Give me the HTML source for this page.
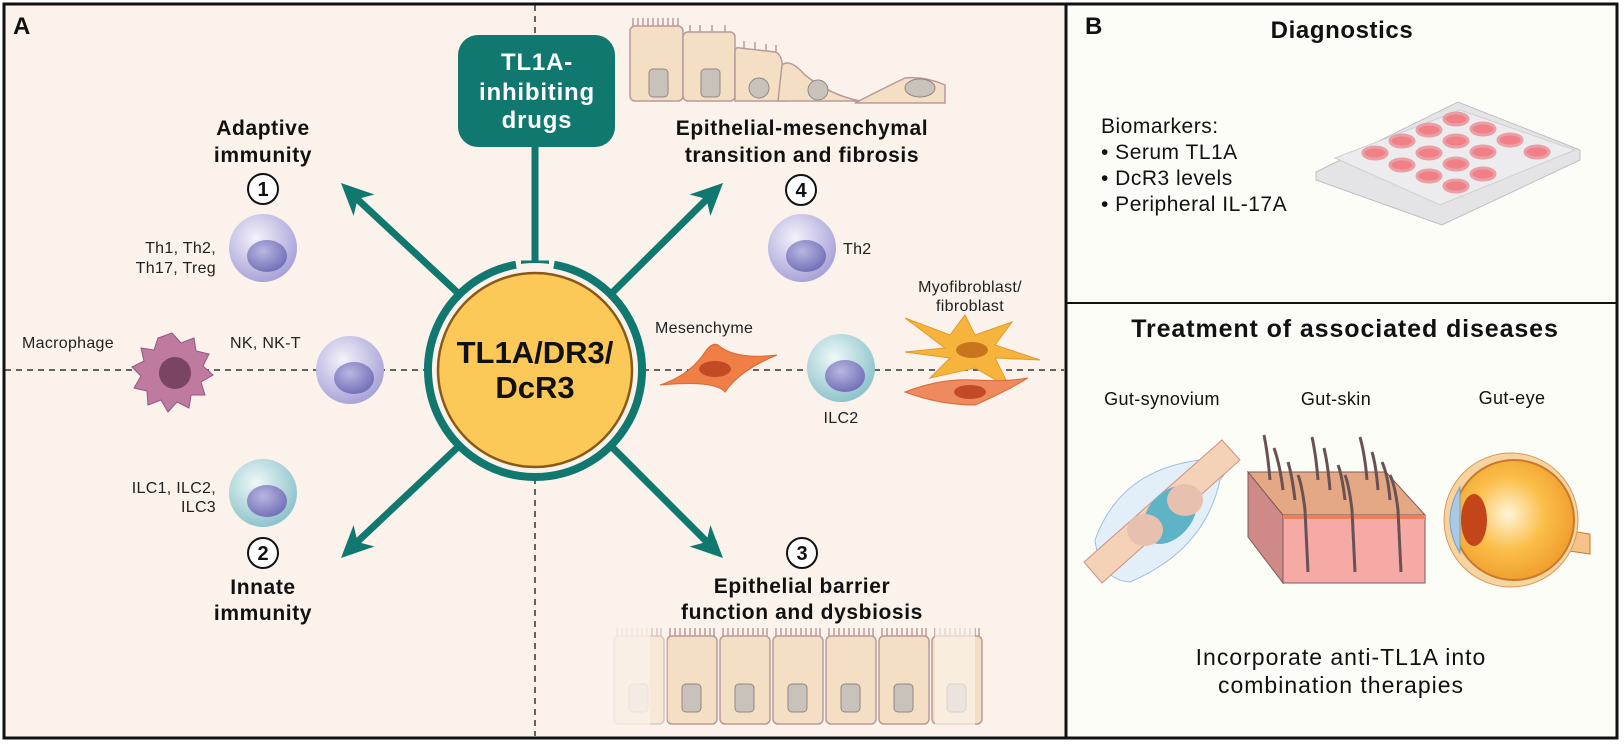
<!DOCTYPE html>
<html><head><meta charset="utf-8"><style>
html,body{margin:0;padding:0;background:#fff}
svg{display:block}
text{font-family:"Liberation Sans",Arial,sans-serif;fill:#111}
.b{font-weight:bold}
.h{font-weight:bold;font-size:21px;letter-spacing:0.6px}
.l{font-size:16px;letter-spacing:0.3px;fill:#222}
</style></head><body>
<svg width="1624" height="745" viewBox="0 0 1624 745" xmlns="http://www.w3.org/2000/svg">
<defs>
<radialGradient id="cellP" cx="40%" cy="35%" r="65%"><stop offset="0" stop-color="#f4f2fb"/><stop offset="1" stop-color="#a9a4d8"/></radialGradient>
<radialGradient id="cellB" cx="40%" cy="35%" r="65%"><stop offset="0" stop-color="#eef8f8"/><stop offset="1" stop-color="#8fc4cc"/></radialGradient>
<radialGradient id="nuc" cx="40%" cy="35%" r="70%"><stop offset="0" stop-color="#b9b6e2"/><stop offset="1" stop-color="#6f6db5"/></radialGradient>
<radialGradient id="eye" cx="45%" cy="45%" r="60%"><stop offset="0" stop-color="#fff4d8"/><stop offset="0.5" stop-color="#fbbf4a"/><stop offset="1" stop-color="#ef9a2a"/></radialGradient>
<path id="ah" d="M0,0 L-32,-15 L-23,0 L-32,15 z" fill="#10786f"/>
<g id="epi">
<rect x="0" y="0" width="50" height="88" rx="5" fill="#f4dfc4" stroke="#b99a9a" stroke-width="1.5"/>
<rect x="15" y="48" width="19" height="28" rx="4" fill="#c9c2bb" stroke="#8f8781"/>
<path d="M3,0 v-8 M8,0 v-8 M13,0 v-8 M18,0 v-8 M23,0 v-8 M28,0 v-8 M33,0 v-8 M38,0 v-8 M43,0 v-8 M47,0 v-8" stroke="#b99a9a" stroke-width="1.5"/>
</g>
</defs>
<rect x="4" y="4" width="1062" height="734" fill="#faf2eb"/>
<rect x="1066" y="4" width="551" height="734" fill="#fdfdf8"/>
<line x1="535" y1="5" x2="535" y2="736" stroke="#333" stroke-width="1.5" stroke-dasharray="6,5"/>
<line x1="5" y1="370" x2="1064" y2="370" stroke="#333" stroke-width="1.5" stroke-dasharray="6,5"/>

<g fill="#f4dfc4" stroke="#b99a9a" stroke-width="1.5">
<rect x="630" y="26" width="53" height="75" rx="5"/>
<rect x="683" y="32" width="52" height="69" rx="5"/>
<path d="M735,101 L735,50 Q736,47 740,48 L775,52 Q780,53 782,62 L785,101 z"/>
<path d="M778,101 L782,65 Q790,58 805,75 Q830,95 860,101 z"/>
<path d="M855,103 Q880,90 905,78 Q925,76 945,85 L945,103 z"/>
<path d="M633,26 v-8 M638,26 v-8 M643,26 v-8 M648,26 v-8 M653,26 v-8 M658,26 v-8 M663,26 v-8 M668,26 v-8 M673,26 v-8 M678,26 v-8 M690,32 v-7 M700,32 v-7 M712,32 v-7 M725,32 v-7 M744,48 v-7 M755,49 v-7 M766,51 v-7 M776,52 v-7" fill="none"/>
</g>
<g fill="#c9c2bb" stroke="#8f8781">
<rect x="649" y="69" width="19" height="28" rx="4"/>
<rect x="701" y="69" width="19" height="28" rx="4"/>
<circle cx="759" cy="88" r="10"/>
<circle cx="818" cy="90" r="10"/>
<ellipse cx="920" cy="88" rx="15" ry="9"/>
</g>
<g transform="translate(667,636)">
<use href="#epi" x="-53"/><use href="#epi"/><use href="#epi" x="53"/><use href="#epi" x="106"/><use href="#epi" x="159"/><use href="#epi" x="212"/><use href="#epi" x="265"/>
</g>
<rect x="595" y="620" width="55" height="110" fill="#faf2eb" opacity="0.85"/>
<rect x="650" y="620" width="17" height="110" fill="#faf2eb" opacity="0.5"/>
<rect x="935" y="620" width="40" height="110" fill="#faf2eb" opacity="0.7"/>

<rect x="4" y="4" width="1613" height="734" fill="none" stroke="#111" stroke-width="3"/>
<line x1="1066" y1="4" x2="1066" y2="738" stroke="#111" stroke-width="3"/>
<line x1="1066" y1="303" x2="1617" y2="303" stroke="#111" stroke-width="2"/>
<text x="13" y="34" class="b" font-size="24">A</text>
<text x="1085" y="34" class="b" font-size="24">B</text>

<rect x="458" y="35" width="157" height="112" rx="20" fill="#10786f"/>
<text x="537" y="70" class="b" font-size="24" text-anchor="middle" letter-spacing="0.8" style="fill:#fff">TL1A-</text>
<text x="537" y="100" class="b" font-size="24" text-anchor="middle" letter-spacing="0.8" style="fill:#fff">inhibiting</text>
<text x="537" y="128" class="b" font-size="24" text-anchor="middle" letter-spacing="0.8" style="fill:#fff">drugs</text>
<line x1="535" y1="147" x2="535" y2="262" stroke="#10786f" stroke-width="7"/>
<line x1="521" y1="264" x2="549" y2="264" stroke="#10786f" stroke-width="7"/>

<g stroke="#10786f" stroke-width="7">
<line x1="459" y1="294" x2="355" y2="197"/>
<line x1="611" y1="294" x2="709" y2="197"/>
<line x1="459" y1="446" x2="355" y2="544"/>
<line x1="611" y1="446" x2="709" y2="544"/>
</g>
<use href="#ah" transform="translate(341,183) rotate(-136)"/>
<use href="#ah" transform="translate(723,183) rotate(-44)"/>
<use href="#ah" transform="translate(341,558) rotate(136)"/>
<use href="#ah" transform="translate(723,558) rotate(44)"/>

<circle cx="535" cy="370" r="107" fill="#faf2eb"/>
<path d="M 516,264.7 A 107 107 0 1 0 554,264.7" fill="none" stroke="#10786f" stroke-width="8"/>
<circle cx="535" cy="370" r="97" fill="#fcc857" stroke="#8a5a15" stroke-width="2.5"/>
<text x="535" y="363" class="b" font-size="31" text-anchor="middle">TL1A/DR3/</text>
<text x="535" y="398" class="b" font-size="31" text-anchor="middle">DcR3</text>

<text x="263" y="135" class="h" text-anchor="middle">Adaptive</text>
<text x="263" y="162" class="h" text-anchor="middle">immunity</text>
<circle cx="263" cy="189" r="15" fill="#fff" stroke="#111" stroke-width="2"/>
<text x="263" y="196" class="b" font-size="20" text-anchor="middle">1</text>
<text x="216" y="253" class="l" text-anchor="end">Th1, Th2,</text>
<text x="216" y="273" class="l" text-anchor="end">Th17, Treg</text>
<circle cx="263" cy="248" r="34" fill="url(#cellP)"/>
<ellipse cx="267" cy="256" rx="20" ry="16" fill="url(#nuc)"/>

<path d="M172,333 l9,10 13,-5 2,13 13,3 -6,12 10,9 -12,7 4,13 -14,0 -2,13 -12,-6 -9,10 -7,-12 -13,5 -1,-14 -13,-3 7,-12 -9,-9 12,-6 -3,-13 13,2 4,-12 z" fill="#bf7aa0" stroke="#9a5580"/>
<circle cx="175" cy="373" r="16" fill="#7a4463"/>
<text x="22" y="348" class="l">Macrophage</text>
<text x="230" y="348" class="l">NK, NK-T</text>
<circle cx="350" cy="370" r="34" fill="url(#cellP)"/>
<ellipse cx="354" cy="378" rx="20" ry="16" fill="url(#nuc)"/>

<circle cx="263" cy="493" r="34" fill="url(#cellB)"/>
<ellipse cx="267" cy="501" rx="20" ry="16" fill="url(#nuc)"/>
<text x="216" y="493" class="l" text-anchor="end">ILC1, ILC2,</text>
<text x="216" y="512" class="l" text-anchor="end">ILC3</text>
<circle cx="263" cy="553" r="15" fill="#fff" stroke="#111" stroke-width="2"/>
<text x="263" y="560" class="b" font-size="20" text-anchor="middle">2</text>
<text x="263" y="594" class="h" text-anchor="middle">Innate</text>
<text x="263" y="620" class="h" text-anchor="middle">immunity</text>

<text x="802" y="135" class="h" text-anchor="middle">Epithelial-mesenchymal</text>
<text x="802" y="162" class="h" text-anchor="middle">transition and fibrosis</text>
<circle cx="801" cy="190" r="15" fill="#fff" stroke="#111" stroke-width="2"/>
<text x="801" y="197" class="b" font-size="20" text-anchor="middle">4</text>
<circle cx="802" cy="248" r="34" fill="url(#cellP)"/>
<ellipse cx="806" cy="256" rx="20" ry="16" fill="url(#nuc)"/>
<text x="843" y="254" class="l">Th2</text>
<text x="655" y="333" class="l">Mesenchyme</text>
<path d="M660,385 Q690,375 705,352 Q712,342 718,345 Q735,360 777,355 Q740,370 725,392 Q715,380 660,385 z" fill="#ef7f45" stroke="#d9683a"/>
<ellipse cx="715" cy="369" rx="16" ry="8" fill="#c24a24"/>
<circle cx="841" cy="368" r="34" fill="url(#cellB)"/>
<ellipse cx="845" cy="376" rx="20" ry="16" fill="url(#nuc)"/>
<text x="841" y="423" class="l" text-anchor="middle">ILC2</text>
<text x="970" y="292" class="l" text-anchor="middle">Myofibroblast/</text>
<text x="970" y="311" class="l" text-anchor="middle">fibroblast</text>
<path d="M905,318 L950,335 965,315 975,335 1012,322 995,345 1040,360 995,358 1010,388 975,368 930,378 950,358 905,352 945,348 z" fill="#f7b43d" stroke="#e09a2a"/>
<ellipse cx="972" cy="350" rx="16" ry="8" fill="#c9751e"/>
<path d="M905,392 Q940,378 975,380 Q1005,382 1028,378 Q1005,392 975,405 Q940,405 905,392 z" fill="#ef8a5e" stroke="#d9683a"/>
<ellipse cx="970" cy="392" rx="16" ry="7" fill="#c24a24"/>

<circle cx="802" cy="553" r="15" fill="#fff" stroke="#111" stroke-width="2"/>
<text x="802" y="560" class="b" font-size="20" text-anchor="middle">3</text>
<text x="802" y="593" class="h" text-anchor="middle">Epithelial barrier</text>
<text x="802" y="619" class="h" text-anchor="middle">function and dysbiosis</text>

<text x="1342" y="38" class="b" font-size="24" text-anchor="middle" letter-spacing="0.6">Diagnostics</text>
<text x="1101" y="133" font-size="21" letter-spacing="0.5">Biomarkers:</text>
<text x="1101" y="159" font-size="21" letter-spacing="0.5">• Serum TL1A</text>
<text x="1101" y="185" font-size="21" letter-spacing="0.5">• DcR3 levels</text>
<text x="1101" y="211" font-size="21" letter-spacing="0.5">• Peripheral IL-17A</text>
<g>
<path d="M1316,172 L1458,102 L1580,150 L1580,160 L1442,225 L1316,180 z" fill="#e4e4e6" stroke="#c0c0c4"/>
<path d="M1335,158 L1460,110 L1575,150 L1440,205 z" fill="#ececee" stroke="#cfcfd2"/>
<g fill="#f27e86" stroke="#e8a0a6" stroke-width="3">
<ellipse cx="1375" cy="153" rx="12" ry="6"/><ellipse cx="1402" cy="141" rx="12" ry="6"/><ellipse cx="1429" cy="130" rx="12" ry="6"/><ellipse cx="1456" cy="119" rx="12" ry="6"/>
<ellipse cx="1402" cy="165" rx="12" ry="6"/><ellipse cx="1429" cy="153" rx="12" ry="6"/><ellipse cx="1456" cy="141" rx="12" ry="6"/><ellipse cx="1483" cy="129" rx="12" ry="6"/>
<ellipse cx="1429" cy="176" rx="12" ry="6"/><ellipse cx="1456" cy="164" rx="12" ry="6"/><ellipse cx="1483" cy="152" rx="12" ry="6"/><ellipse cx="1510" cy="140" rx="12" ry="6"/>
<ellipse cx="1456" cy="186" rx="12" ry="6"/><ellipse cx="1483" cy="174" rx="12" ry="6"/><ellipse cx="1537" cy="152" rx="12" ry="6"/>
</g></g>

<text x="1345" y="337" class="b" font-size="25" text-anchor="middle" letter-spacing="0.9">Treatment of associated diseases</text>
<text x="1162" y="405" font-size="18" text-anchor="middle" letter-spacing="0.4">Gut-synovium</text>
<text x="1336" y="405" font-size="18" text-anchor="middle" letter-spacing="0.4">Gut-skin</text>
<text x="1512" y="404" font-size="18" text-anchor="middle" letter-spacing="0.4">Gut-eye</text>
<g>
<path d="M1095,540 Q1120,470 1200,460 Q1235,465 1220,480 Q1205,550 1130,582 Q1100,580 1095,540 z" fill="#e2eef8" stroke="#9dbfdc"/>
<path d="M1084,562 L1222,440 L1240,460 L1102,583 z" fill="#f3d2b8" stroke="#d08f80"/>
<ellipse cx="1170" cy="515" rx="22" ry="33" fill="#5fb3c6" transform="rotate(40 1170 515)"/>
<ellipse cx="1185" cy="500" rx="18" ry="16" fill="#e8c0b0"/>
<ellipse cx="1145" cy="530" rx="18" ry="16" fill="#e8c0b0"/>
</g>
<g>
<path d="M1248,472 L1283,515 L1283,583 L1248,537 z" fill="#cf8a88" stroke="#7a5a5a"/>
<path d="M1248,472 L1386,472 L1425,515 L1283,515 z" fill="#e4a885" stroke="#7a5a5a"/>
<rect x="1283" y="515" width="142" height="68" fill="#f6aaa6" stroke="#7a5a5a"/>
<path d="M1283,515 h142 v4 h-142 z" fill="#ef7f5a"/>
<g stroke="#6a5252" stroke-width="3" fill="none">
<path d="M1270,480 Q1268,455 1264,435"/><path d="M1283,490 Q1280,465 1274,448"/><path d="M1295,500 Q1292,475 1288,462"/>
<path d="M1318,480 Q1316,455 1312,437"/><path d="M1330,490 Q1328,465 1324,448"/><path d="M1345,500 Q1342,475 1338,465"/>
<path d="M1367,480 Q1365,455 1360,437"/><path d="M1378,490 Q1376,465 1372,452"/><path d="M1390,500 Q1388,475 1382,462"/>
<path d="M1308,572 L1305,510 Q1302,485 1298,475"/><path d="M1355,572 L1352,510 Q1349,485 1345,475"/><path d="M1401,572 L1398,510 Q1395,485 1390,475"/>
</g>
</g>
<g>
<path d="M1565,530 L1590,534 L1590,554 L1562,550 z" fill="#f5c38a" stroke="#c77a2a"/>
<circle cx="1511" cy="520" r="67" fill="#f5d4a0" stroke="#d99a55"/>
<circle cx="1514" cy="520" r="60" fill="url(#eye)" stroke="#c77a2a" stroke-width="2"/>
<path d="M1460,487 Q1440,520 1460,553 z" fill="#a9c9e6" stroke="#7aa0c0"/>
<ellipse cx="1474" cy="520" rx="13" ry="26" fill="#c2461a"/>
</g>
<text x="1341" y="665" font-size="23" text-anchor="middle" letter-spacing="1">Incorporate anti-TL1A into</text>
<text x="1341" y="693" font-size="23" text-anchor="middle" letter-spacing="1">combination therapies</text>
</svg>
</body></html>
